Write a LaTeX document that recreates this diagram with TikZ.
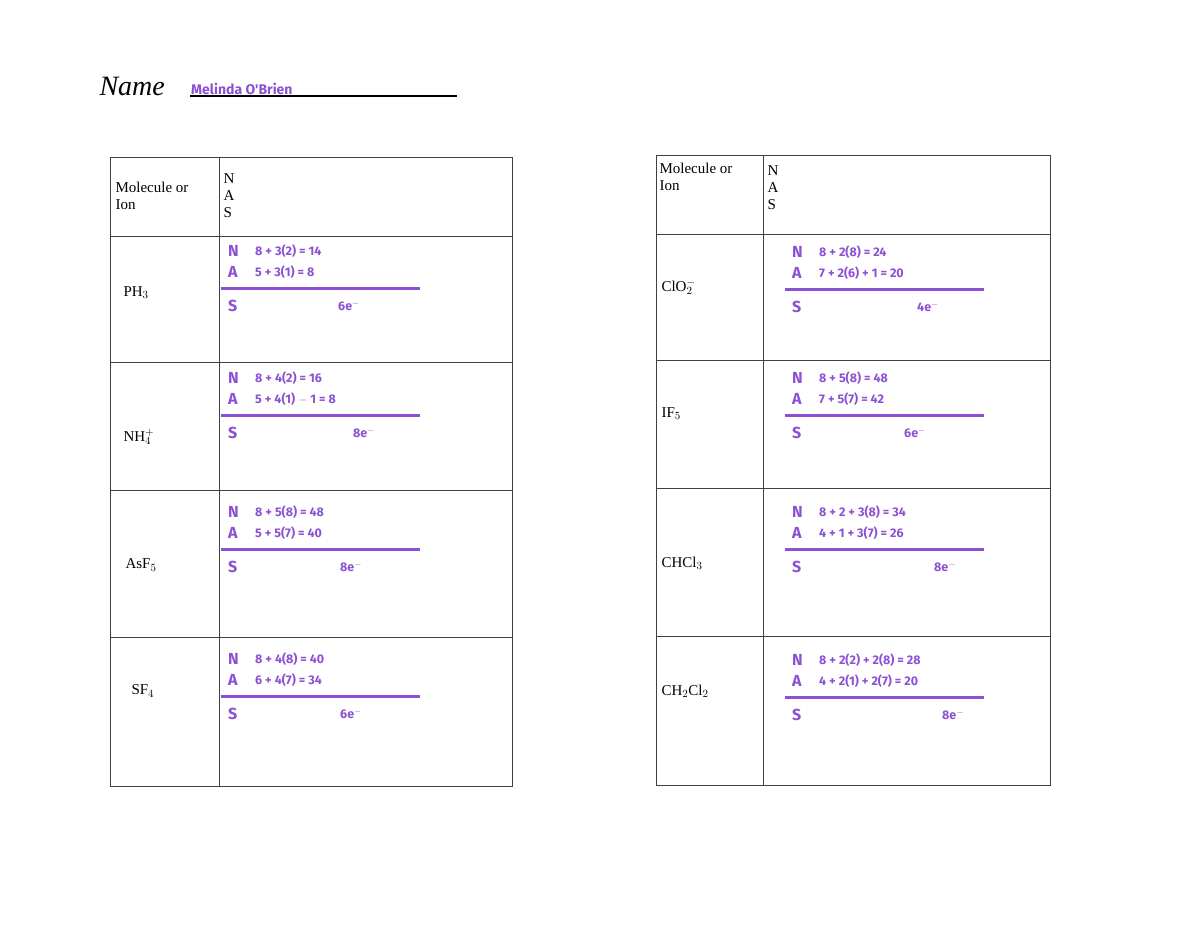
\documentclass[tikz,border=0pt]{standalone}
\usepackage{fontspec}
\setmainfont{Liberation Serif}
\newfontfamily\hand{Fira Sans}
\definecolor{pen}{RGB}{140,80,210}
\begin{document}
\begin{tikzpicture}[x=1pt,y=-1pt,
  grid/.style={draw=black!75,line width=1pt},
  lab/.style={anchor=west,font=\fontsize{15}{17}\selectfont,align=left},
  hw/.style={anchor=west,text=pen,font=\hand\bfseries\fontsize{12.5}{13}\selectfont,inner sep=0},
  hl/.style={anchor=west,text=pen,font=\hand\bfseries\fontsize{16}{17}\selectfont,inner sep=0},
  bar/.style={draw=pen,line width=3pt}]
\useasboundingbox (0,0) rectangle (1200,929);
\node[anchor=west,font=\fontsize{28}{30}\selectfont\itshape] (nm) at (96,86) {Name};
\node[hw,font=\hand\bfseries\fontsize{14}{15}\selectfont] (who) at (191,89) {Melinda O'Brien};
\draw[line width=1.2pt] (190,96) -- (457,96);
% left table
\draw[grid] (110,157) rectangle (512,786);
\draw[grid] (219,157) -- (219,786);
\foreach \y in {236,362,490,637} \draw[grid] (110,\y) -- (512,\y);
\node[lab] (h1) at (112,196) {Molecule or\\Ion};
\node[lab] (n1) at (220,196) {N\\A\\S};
\node[lab] (m1) at (120,293) {PH$_3$};
\node[lab] (m2) at (120,437) {NH$_4^{+}$};
\node[lab] (m3) at (122,565) {AsF$_5$};
\node[lab] (m4) at (128,691) {SF$_4$};
% right table
\draw[grid] (656,155) rectangle (1050,785);
\draw[grid] (763,155) -- (763,785);
\foreach \y in {234,360,488,636} \draw[grid] (656,\y) -- (1050,\y);
\node[lab] (h2) at (656,177) {Molecule or\\Ion};
\node[lab] (n2) at (764,188) {N\\A\\S};
\node[lab] (m5) at (658,287) {ClO$_2^{-}$};
\node[lab] (m6) at (658,414) {IF$_5$};
\node[lab] (m7) at (658,563) {CHCl$_3$};
\node[lab] (m8) at (658,691) {CH$_2$Cl$_2$};
% handwriting
\newcommand\work[6]{%
 \node[hl] at (#1,#2-37) {N};
 \node[hl] at (#1,#2-16) {A};
 \node[hl] at (#1,#2+18) {S};
 \node[hw] at (#1+27,#2-37) {#3};
 \node[hw] at (#1+27,#2-16) {#4};
 \node[hw] at (#1+#6,#2+18) {#5};
 \draw[bar] (#1-7,#2) -- (#1+192,#2);}
\work{228}{288}{8 + 3(2) = 14}{5 + 3(1) = 8}{6e$^-$}{110}
\work{228}{415}{8 + 4(2) = 16}{5 + 4(1) $-$ 1 = 8}{8e$^-$}{125}
\work{228}{549}{8 + 5(8) = 48}{5 + 5(7) = 40}{8e$^-$}{112}
\work{228}{696}{8 + 4(8) = 40}{6 + 4(7) = 34}{6e$^-$}{112}
\work{792}{289}{8 + 2(8) = 24}{7 + 2(6) + 1 = 20}{4e$^-$}{125}
\work{792}{415}{8 + 5(8) = 48}{7 + 5(7) = 42}{6e$^-$}{112}
\work{792}{549}{8 + 2 + 3(8) = 34}{4 + 1 + 3(7) = 26}{8e$^-$}{142}
\work{792}{697}{8 + 2(2) + 2(8) = 28}{4 + 2(1) + 2(7) = 20}{8e$^-$}{150}
\end{tikzpicture}
\end{document}
